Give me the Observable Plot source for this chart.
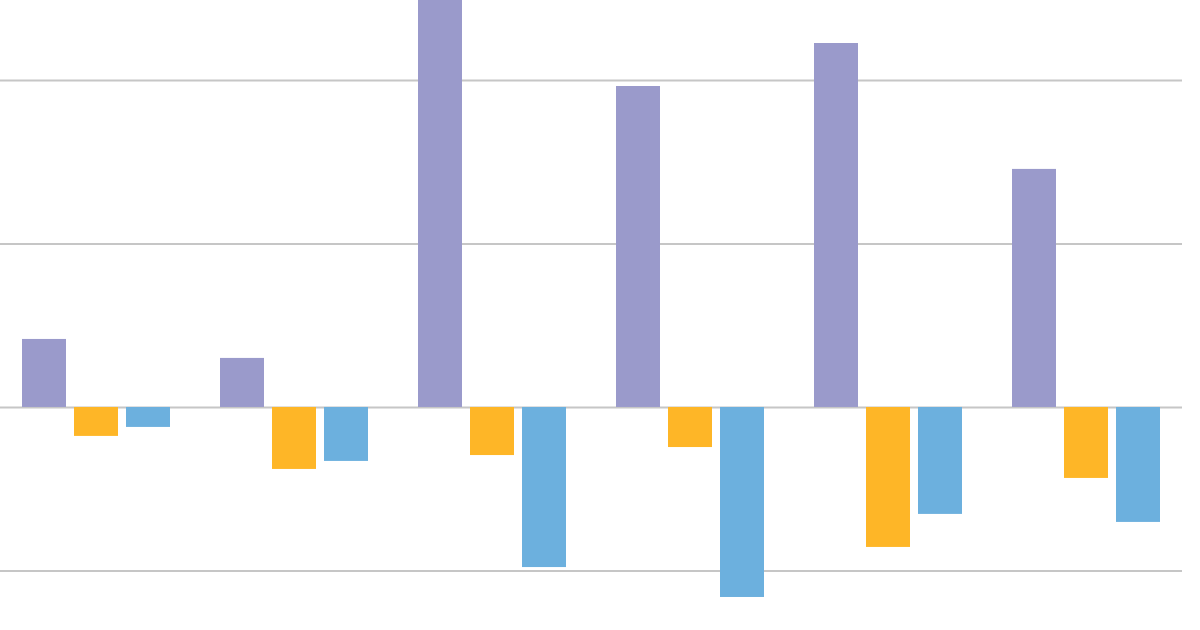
<!DOCTYPE html>
<html>
<head>
<meta charset="utf-8">
<script src="https://cdn.jsdelivr.net/npm/d3@7"></script>
<script src="https://cdn.jsdelivr.net/npm/@observablehq/plot@0.6"></script>
<style>
  html, body { margin: 0; padding: 0; background: #fff; }
  #chart { position: relative; width: 1200px; height: 630px; overflow: hidden; }
  #chart svg { position: absolute; left: 0; top: 0; background: transparent; }
</style>
</head>
<body>
<div id="chart"></div>
<script>
const groups = ["G1", "G2", "G3", "G4", "G5", "G6"];
const seriesNames = ["A", "B", "C"];
const seriesA = [0.416, 0.30, 2.60, 1.963, 2.226, 1.456];
const seriesB = [-0.177, -0.379, -0.294, -0.245, -0.856, -0.434];
const seriesC = [-0.122, -0.330, -0.979, -1.162, -0.654, -0.703];
const gridTicks = [-1, 0, 1, 2];
const colors = ["#9a9acb", "#feb627", "#6cb0de"];

const data = [];
const allSeries = [seriesA, seriesB, seriesC];
groups.forEach((g, i) => {
  seriesNames.forEach((s, j) => {
    data.push({group: g, series: s, value: allSeries[j][i]});
  });
});

const yScale = {domain: [-1.364, 2.489], axis: null};
const common = {
  width: 1182,
  height: 630,
  marginLeft: 0,
  marginRight: 0,
  marginTop: 0,
  marginBottom: 0,
  style: {background: "transparent"}
};

const grid = Plot.plot({
  ...common,
  y: yScale,
  marks: [
    Plot.ruleY(gridTicks, {stroke: "#c6c6c6", strokeWidth: 2})
  ]
});

const bars = Plot.plot({
  ...common,
  fx: {domain: groups, paddingInner: 0.247, paddingOuter: 0.104, axis: null},
  x: {domain: seriesNames, paddingInner: 0.162, paddingOuter: 0, axis: null},
  y: yScale,
  color: {domain: seriesNames, range: colors},
  marks: [
    Plot.barY(data, {fx: "group", x: "series", y: "value", fill: "series", clip: true})
  ]
});

const el = document.getElementById("chart");
el.appendChild(grid);
el.appendChild(bars);
</script>
</body>
</html>
